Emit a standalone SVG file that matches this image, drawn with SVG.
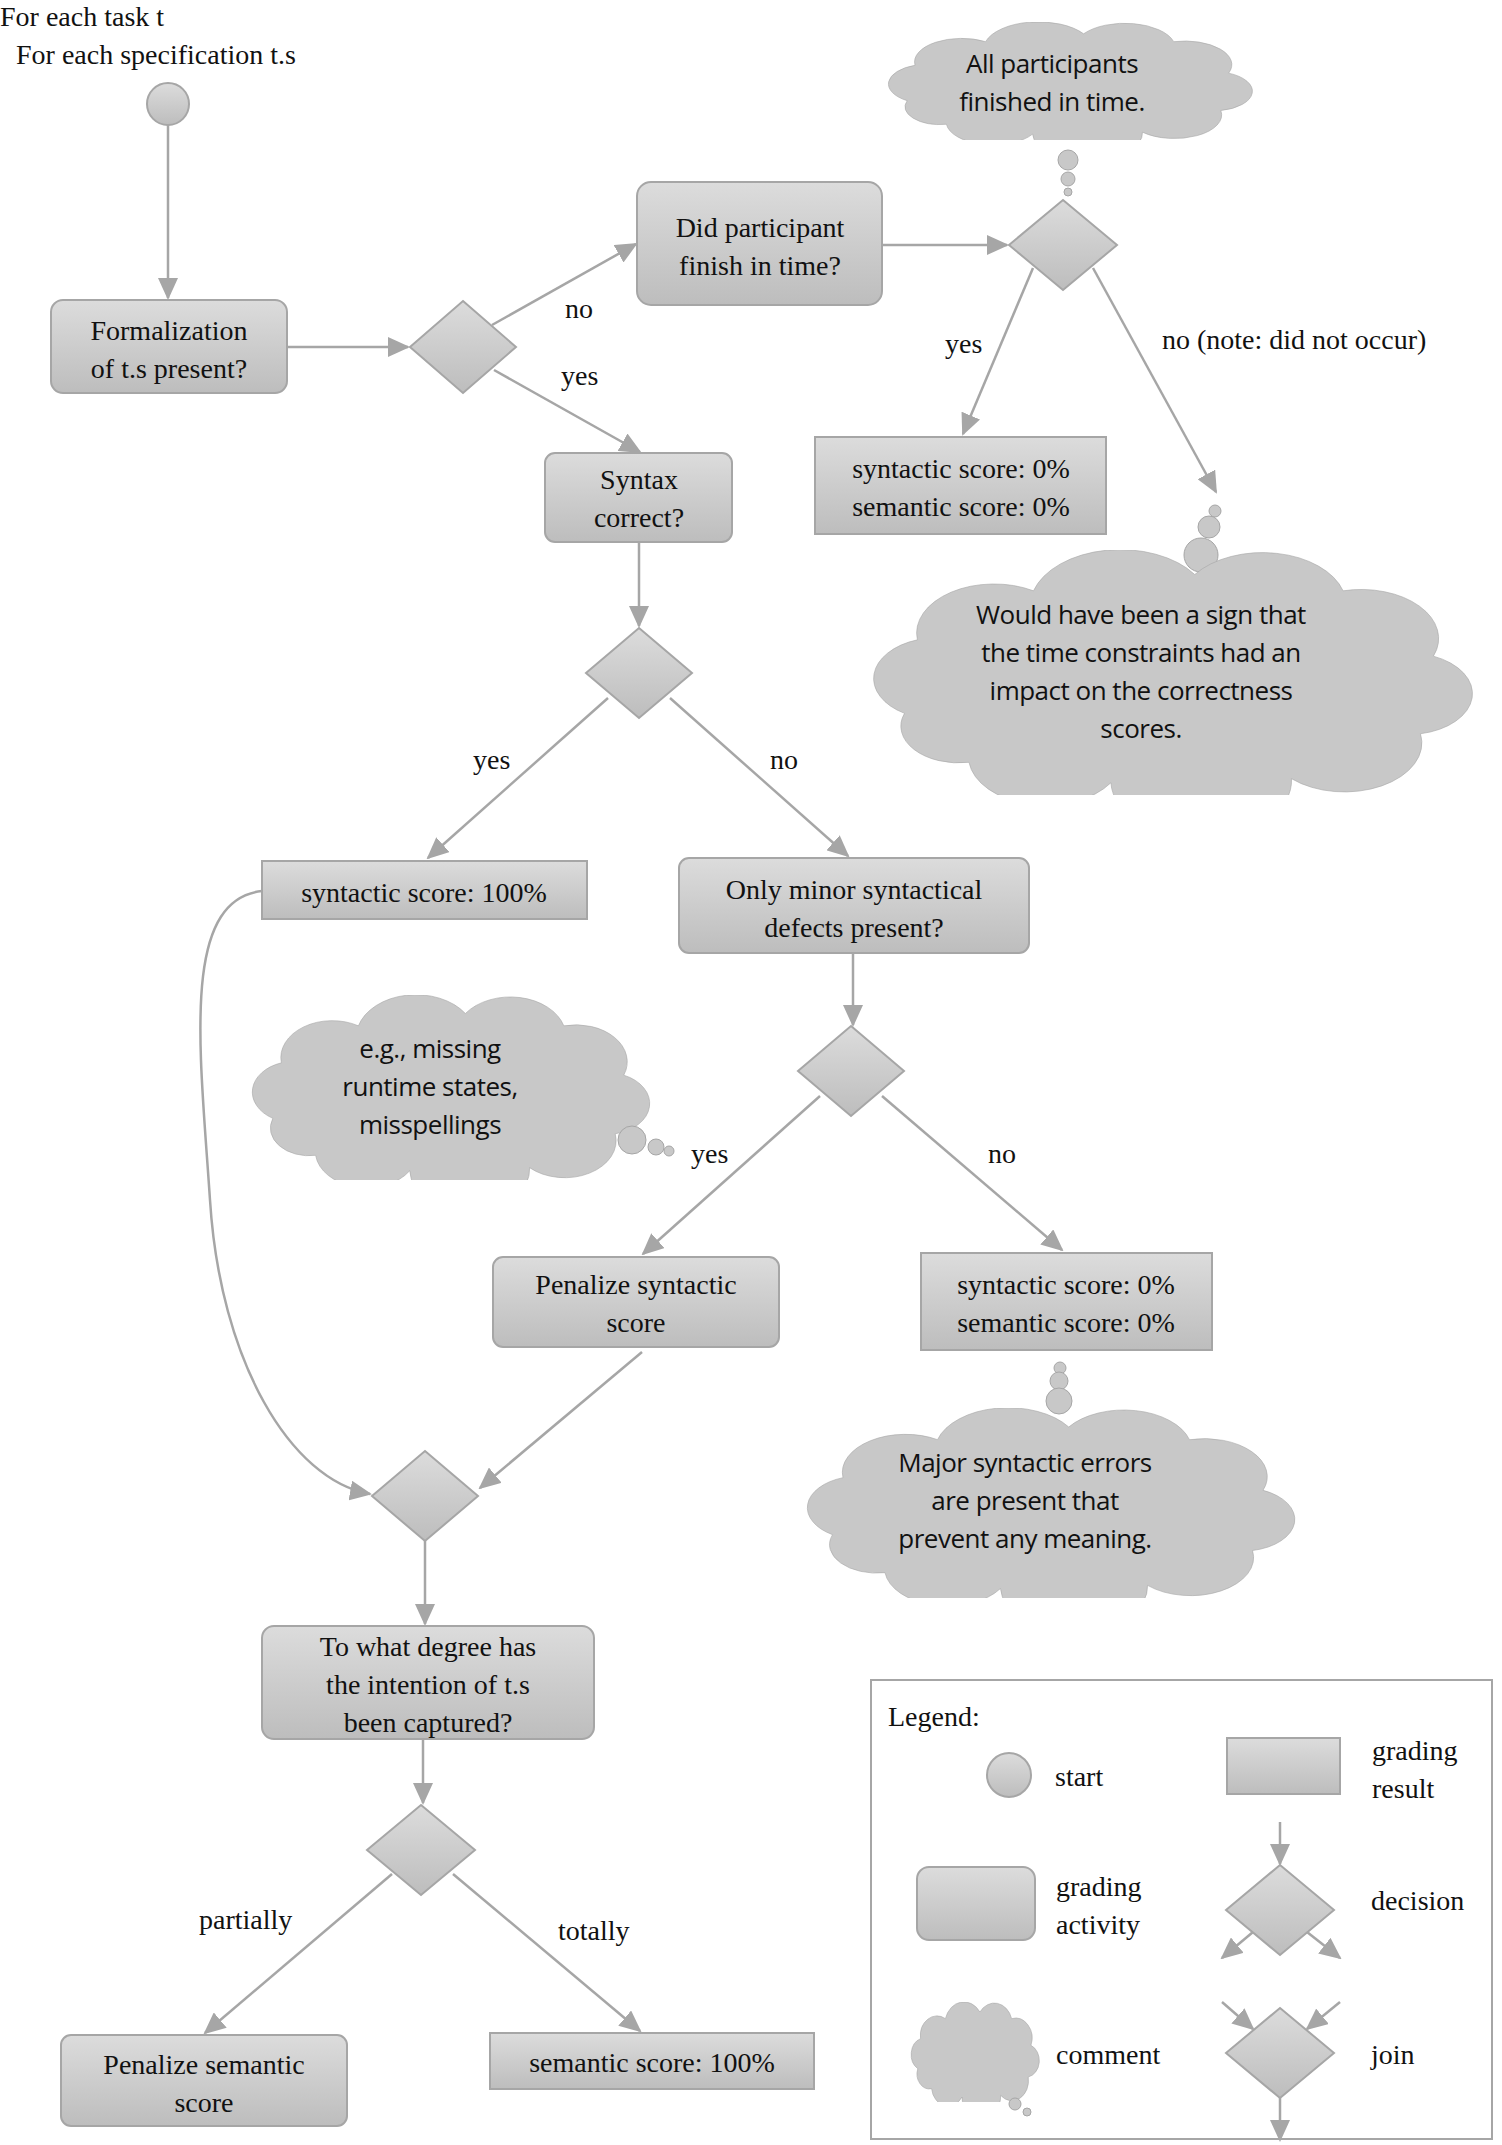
<svg xmlns="http://www.w3.org/2000/svg" width="1502" height="2145" viewBox="0 0 1502 2145">
<style>
.t{font-family:"Liberation Serif",serif;font-size:28px;fill:#111}
.c{font-family:"Open Sans","Liberation Sans",sans-serif;font-size:26px;fill:#111;letter-spacing:-0.5px}
.m{text-anchor:middle}
.n{fill:url(#g);stroke:#a6a6a6;stroke-width:2}
.l{fill:none;stroke:#a6a6a6;stroke-width:2.5}
.a{marker-end:url(#ar)}
</style>
<defs>
<linearGradient id="g" x1="0" y1="0" x2="0" y2="1"><stop offset="0" stop-color="#dcdcdc"/><stop offset="1" stop-color="#bdbdbd"/></linearGradient>
<marker id="ar" markerUnits="userSpaceOnUse" markerWidth="22" markerHeight="20" refX="20" refY="10" orient="auto"><path d="M0,0 L22,10 L0,20 Z" fill="#a6a6a6"/></marker>
<symbol id="cloud" viewBox="0 0 100 60" preserveAspectRatio="none"><path d="M10,40 A10,10 0 0,1 12,22 A12,12 0 0,1 30,10 A14,14 0 0,1 55,6 A13,13 0 0,1 78,10 A12,12 0 0,1 92,26 A10,10 0 0,1 90,45 A12,12 0 0,1 70,56 A14,14 0 0,1 42,57 A12,12 0 0,1 20,52 A9,9 0 0,1 10,40 Z" fill="#c8c8c8" stroke="#a6a6a6" stroke-width="0.6" vector-effect="non-scaling-stroke"/></symbol>
</defs>
<text class="t" x="0" y="26">For each task t</text>
<text class="t" x="16" y="64">For each specification t.s</text>
<g id="connectors">
<line class="l a" x1="168" y1="125" x2="168" y2="298"/>
<line class="l a" x1="287" y1="347" x2="408" y2="347"/>
<line class="l a" x1="492" y1="325" x2="636" y2="244"/>
<line class="l a" x1="494" y1="370" x2="640" y2="452"/>
<line class="l a" x1="882" y1="245" x2="1007" y2="245"/>
<line class="l a" x1="1033" y1="268" x2="963" y2="434"/>
<line class="l a" x1="1093" y1="268" x2="1216" y2="492"/>
<line class="l a" x1="639" y1="542" x2="639" y2="626"/>
<line class="l a" x1="608" y1="698" x2="428" y2="858"/>
<line class="l a" x1="670" y1="698" x2="848" y2="856"/>
<line class="l a" x1="853" y1="953" x2="853" y2="1025"/>
<line class="l a" x1="820" y1="1096" x2="643" y2="1254"/>
<line class="l a" x1="882" y1="1096" x2="1062" y2="1250"/>
<path class="l a" d="M262,891 C180,900 200,1050 210,1200 C220,1360 290,1480 370,1494"/>
<line class="l a" x1="642" y1="1352" x2="480" y2="1488"/>
<line class="l a" x1="425" y1="1541" x2="425" y2="1624"/>
<line class="l a" x1="423" y1="1739" x2="423" y2="1803"/>
<line class="l a" x1="392" y1="1874" x2="205" y2="2033"/>
<line class="l a" x1="453" y1="1874" x2="640" y2="2031"/>
</g>
<g id="labels">
<text class="t" x="565" y="318">no</text>
<text class="t" x="561" y="385">yes</text>
<text class="t" x="945" y="353">yes</text>
<text class="t" x="1162" y="349">no (note: did not occur)</text>
<text class="t" x="473" y="769">yes</text>
<text class="t" x="770" y="769">no</text>
<text class="t" x="691" y="1163">yes</text>
<text class="t" x="988" y="1163">no</text>
<text class="t" x="199" y="1929">partially</text>
<text class="t" x="558" y="1940">totally</text>
</g>
<g id="start"><circle class="n" cx="168" cy="104" r="21"/></g>
<g id="formalization"><rect class="n" x="51" y="300" width="236" height="93" rx="12"/><text class="t m" x="169" y="340">Formalization<tspan x="169" dy="38">of t.s present?</tspan></text></g>
<g id="d1"><path class="n" d="M463,301 L516,347 L463,393 L410,347 Z"/></g>
<g id="finish"><rect class="n" x="637" y="182" width="245" height="123" rx="14"/><text class="t m" x="760" y="237">Did participant<tspan x="760" dy="38">finish in time?</tspan></text></g>
<g id="d2"><path class="n" d="M1063,200 L1117,245 L1063,290 L1009,245 Z"/></g>
<g id="cloud1"><use href="#cloud" x="868" y="22" width="392" height="118"/><text class="c m" x="1052" y="73">All participants<tspan x="1052" dy="38">finished in time.</tspan></text>
<circle cx="1068" cy="160" r="10" fill="#c8c8c8" stroke="#a6a6a6"/><circle cx="1068" cy="179" r="7" fill="#c8c8c8" stroke="#a6a6a6"/><circle cx="1068" cy="192" r="4" fill="#c8c8c8" stroke="#a6a6a6"/></g>
<g id="res1"><rect class="n" x="815" y="437" width="291" height="97"/><text class="t m" x="961" y="478">syntactic score: 0%<tspan x="961" dy="38">semantic score: 0%</tspan></text></g>
<g id="cloud2"><circle cx="1215" cy="511" r="6" fill="#c8c8c8" stroke="#a6a6a6"/><circle cx="1209" cy="527" r="11" fill="#c8c8c8" stroke="#a6a6a6"/><circle cx="1201" cy="555" r="17" fill="#c8c8c8" stroke="#a6a6a6"/>
<use href="#cloud" x="840" y="550" width="645" height="245"/><text class="c m" x="1141" y="624">Would have been a sign that<tspan x="1141" dy="38">the time constraints had an</tspan><tspan x="1141" dy="38">impact on the correctness</tspan><tspan x="1141" dy="38">scores.</tspan></text></g>
<g id="syntax"><rect class="n" x="545" y="453" width="187" height="89" rx="10"/><text class="t m" x="639" y="489">Syntax<tspan x="639" dy="38">correct?</tspan></text></g>
<g id="d3"><path class="n" d="M639,628 L692,673 L639,718 L586,673 Z"/></g>
<g id="res100"><rect class="n" x="262" y="861" width="325" height="58"/><text class="t m" x="424" y="902">syntactic score: 100%</text></g>
<g id="minor"><rect class="n" x="679" y="858" width="350" height="95" rx="10"/><text class="t m" x="854" y="899">Only minor syntactical<tspan x="854" dy="38">defects present?</tspan></text></g>
<g id="d4"><path class="n" d="M851,1026 L904,1071 L851,1116 L798,1071 Z"/></g>
<g id="cloud3"><use href="#cloud" x="230" y="995" width="428" height="185"/><text class="c m" x="430" y="1058">e.g., missing<tspan x="430" dy="38">runtime states,</tspan><tspan x="430" dy="38">misspellings</tspan></text>
<circle cx="632" cy="1140" r="14" fill="#c8c8c8" stroke="#a6a6a6"/><circle cx="656" cy="1147" r="8" fill="#c8c8c8" stroke="#a6a6a6"/><circle cx="669" cy="1151" r="5" fill="#c8c8c8" stroke="#a6a6a6"/></g>
<g id="pensyn"><rect class="n" x="493" y="1257" width="286" height="90" rx="10"/><text class="t m" x="636" y="1294">Penalize syntactic<tspan x="636" dy="38">score</tspan></text></g>
<g id="res2"><rect class="n" x="921" y="1253" width="291" height="97"/><text class="t m" x="1066" y="1294">syntactic score: 0%<tspan x="1066" dy="38">semantic score: 0%</tspan></text></g>
<g id="cloud4"><circle cx="1060" cy="1368" r="6" fill="#c8c8c8" stroke="#a6a6a6"/><circle cx="1059" cy="1381" r="9" fill="#c8c8c8" stroke="#a6a6a6"/><circle cx="1059" cy="1401" r="13" fill="#c8c8c8" stroke="#a6a6a6"/>
<use href="#cloud" x="780" y="1408" width="525" height="190"/><text class="c m" x="1025" y="1472">Major syntactic errors<tspan x="1025" dy="38">are present that</tspan><tspan x="1025" dy="38">prevent any meaning.</tspan></text></g>
<g id="join"><path class="n" d="M425,1451 L478,1496 L425,1541 L372,1496 Z"/></g>
<g id="degree"><rect class="n" x="262" y="1626" width="332" height="113" rx="12"/><text class="t m" x="428" y="1656">To what degree has<tspan x="428" dy="38">the intention of t.s</tspan><tspan x="428" dy="38">been captured?</tspan></text></g>
<g id="d5"><path class="n" d="M421,1805 L475,1850 L421,1895 L367,1850 Z"/></g>
<g id="pensem"><rect class="n" x="61" y="2035" width="286" height="91" rx="10"/><text class="t m" x="204" y="2074">Penalize semantic<tspan x="204" dy="38">score</tspan></text></g>
<g id="sem100"><rect class="n" x="490" y="2033" width="324" height="56"/><text class="t m" x="652" y="2072">semantic score: 100%</text></g>
<g id="legend">
<rect x="871" y="1680" width="621" height="459" fill="none" stroke="#a6a6a6" stroke-width="2"/>
<text class="t" x="888" y="1726">Legend:</text>
<circle class="n" cx="1009" cy="1775" r="22"/><text class="t" x="1055" y="1786">start</text>
<rect class="n" x="1227" y="1738" width="113" height="56"/><text class="t" x="1372" y="1760">grading<tspan x="1372" dy="38">result</tspan></text>
<rect class="n" x="917" y="1867" width="118" height="73" rx="12"/><text class="t" x="1056" y="1896">grading<tspan x="1056" dy="38">activity</tspan></text>
<line class="l a" x1="1280" y1="1822" x2="1280" y2="1864"/>
<path class="n" d="M1280,1865 L1334,1910 L1280,1955 L1226,1910 Z"/>
<line class="l a" x1="1253" y1="1932" x2="1222" y2="1958"/>
<line class="l a" x1="1307" y1="1932" x2="1340" y2="1958"/>
<text class="t" x="1371" y="1910">decision</text>
<use href="#cloud" x="904" y="2002" width="138" height="100"/>
<circle cx="1015" cy="2104" r="6" fill="#c8c8c8" stroke="#a6a6a6"/><circle cx="1027" cy="2112" r="4" fill="#c8c8c8" stroke="#a6a6a6"/>
<text class="t" x="1056" y="2064">comment</text>
<line class="l a" x1="1222" y1="2002" x2="1253" y2="2029"/>
<line class="l a" x1="1340" y1="2002" x2="1307" y2="2029"/>
<path class="n" d="M1280,2008 L1334,2053 L1280,2098 L1226,2053 Z"/>
<line class="l a" x1="1280" y1="2098" x2="1280" y2="2140"/>
<text class="t" x="1371" y="2064">join</text>
</g>
</svg>
